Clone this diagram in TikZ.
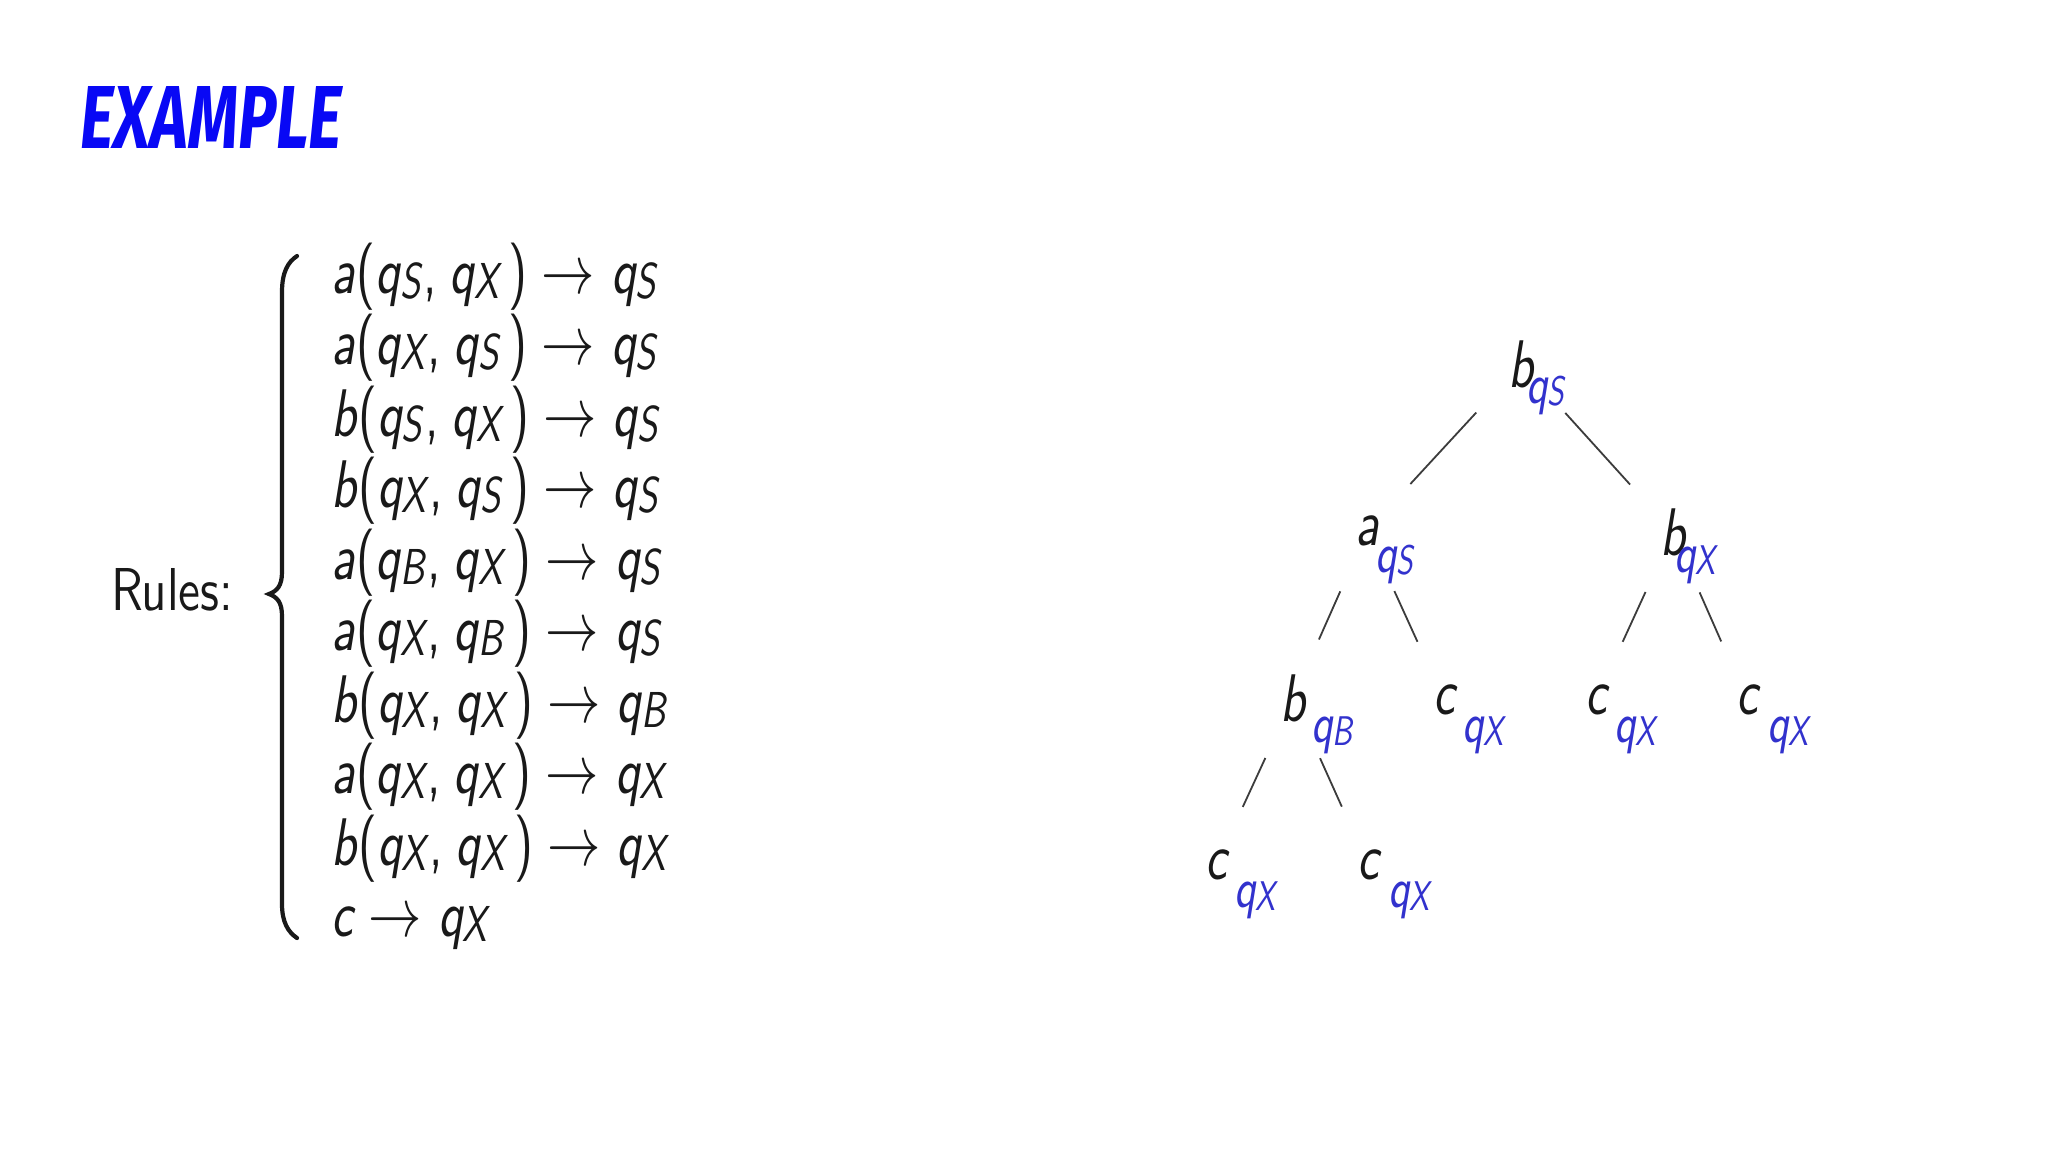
\documentclass[tikz,border=0pt]{standalone}
\usepackage{fontspec}
\usepackage{graphicx}
\newfontfamily\titlefont{Fira Sans}
\definecolor{titleblue}{RGB}{8,8,245}
\definecolor{subblue}{RGB}{50,50,205}
\definecolor{ink}{RGB}{25,25,25}
\definecolor{edgegray}{RGB}{60,60,60}
% q with subscript, as used in the rules (q at the surrounding size)
\newcommand\Qr[1]{q\kern-0.5bp\raisebox{-4bp}{\fontsize{39}{39}\selectfont #1}}
\newcommand\Arr{\scalebox{2.15}{$\to$}}
% one rule line L(A,B) -> C
\newcommand\RL[4]{\scalebox{1}[1.3]{\fontsize{52}{52}\selectfont\sffamily\itshape #1\kern2bp{\upshape(}\kern0bp\Qr{#2}\kern3bp{\upshape,}\kern13bp\Qr{#3}\kern10bp{\upshape)}\kern14bp\Arr\kern16bp\Qr{#4}}}
% tree letter and tree subscript
\newcommand\TL[1]{\scalebox{1}[1.3]{\fontsize{52}{52}\selectfont\sffamily\itshape #1}}
\newcommand\Qt[1]{\scalebox{1}[1.3]{\fontsize{45}{45}\selectfont\sffamily\itshape q\kern-0.5bp\raisebox{-2.3bp}{\fontsize{32}{32}\selectfont #1}}}
\begin{document}
\begin{tikzpicture}[x=1bp,y=-1bp,
  rule/.style={anchor=base west,inner sep=0pt,text=ink},
  tl/.style={anchor=center,inner sep=0pt,text=ink},
  ts/.style={anchor=base west,inner sep=0pt,text=subblue},
  tedge/.style={draw=edgegray,line width=1.8bp,shorten <=66bp,shorten >=64bp}]
\useasboundingbox[fill=white] (0,0) rectangle (2048,1152);
% title
\node[anchor=base west,inner sep=0pt,text=titleblue] (title) at (80,148)
  {\resizebox{262bp}{62bp}{\titlefont\bfseries\itshape EXAMPLE}};
% Rules label
\node[anchor=base west,inner sep=0pt,text=ink] (ruleslabel) at (111,610)
  {\resizebox{122bp}{42bp}{\sffamily Rules:}};
% brace
\draw[ink,line width=4.2bp,line cap=round]
  (297,256) .. controls (288,262) and (282,272) .. (282,292)
  -- (282,572) .. controls (282,586) and (277,591) .. (269,594)
  .. controls (277,597) and (282,602) .. (282,616)
  -- (282,904) .. controls (282,922) and (288,932) .. (297,938);
% rules
\node[rule] (r1) at (331,293.0) {\RL{a}{S}{X}{S}};
\node[rule] (r2) at (331,364.5) {\RL{a}{X}{S}{S}};
\node[rule] (r3) at (331,436.0) {\RL{b}{S}{X}{S}};
\node[rule] (r4) at (331,507.5) {\RL{b}{X}{S}{S}};
\node[rule] (r5) at (331,579.0) {\RL{a}{B}{X}{S}};
\node[rule] (r6) at (331,650.5) {\RL{a}{X}{B}{S}};
\node[rule] (r7) at (331,722.0) {\RL{b}{X}{X}{B}};
\node[rule] (r8) at (331,793.5) {\RL{a}{X}{X}{X}};
\node[rule] (r9) at (331,865.0) {\RL{b}{X}{X}{X}};
\node[rule] (r10) at (331,936.5) {\scalebox{1}[1.3]{\fontsize{52}{52}\selectfont\sffamily\itshape c\kern16bp\Arr\kern16bp\Qr{X}}};
% tree letters
\node[tl] (R)  at (1521,364) {\TL{b}};
\node[tl] (A)  at (1367,531) {\TL{a}};
\node[tl] (BX) at (1673,532) {\TL{b}};
\node[tl] (BB) at (1293,698) {\TL{b}};
\node[tl] (C1) at (1444,700) {\TL{c}};
\node[tl] (C2) at (1596,700) {\TL{c}};
\node[tl] (C3) at (1747,700) {\TL{c}};
\node[tl] (C4) at (1216,865) {\TL{c}};
\node[tl] (C5) at (1368,865) {\TL{c}};
% tree subscripts
\node[ts] (Rs)  at (1526,403) {\Qt{S}};
\node[ts] (As)  at (1375,572) {\Qt{S}};
\node[ts] (BXs) at (1674,572) {\Qt{X}};
\node[ts] (BBs) at (1311,742) {\Qt{B}};
\node[ts] (C1s) at (1462,742) {\Qt{X}};
\node[ts] (C2s) at (1614,742) {\Qt{X}};
\node[ts] (C3s) at (1767,742) {\Qt{X}};
\node[ts] (C4s) at (1234,907) {\Qt{X}};
\node[ts] (C5s) at (1388,907) {\Qt{X}};
% tree edges
\draw[tedge] (R.center) -- (A.center);
\draw[tedge] (R.center) -- (BX.center);
\draw[tedge] (A.center) -- (BB.center);
\draw[tedge] (A.center) -- (C1.center);
\draw[tedge] (BX.center) -- (C2.center);
\draw[tedge] (BX.center) -- (C3.center);
\draw[tedge] (BB.center) -- (C4.center);
\draw[tedge] (BB.center) -- (C5.center);
\end{tikzpicture}
\end{document}
